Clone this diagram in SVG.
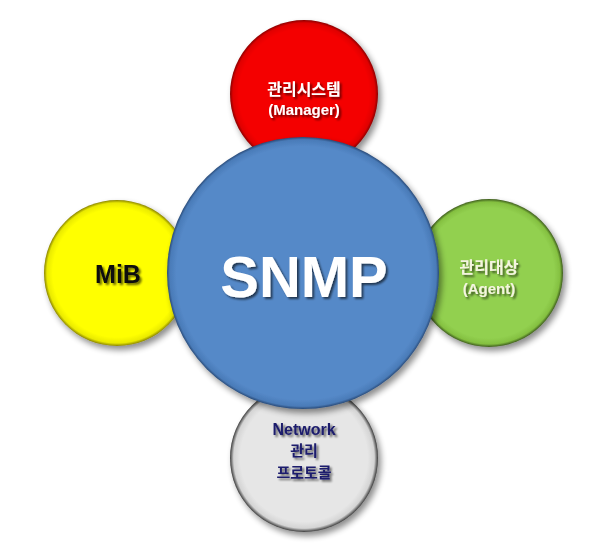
<svg xmlns="http://www.w3.org/2000/svg" width="590" height="543" viewBox="0 0 590 543">
<style>
.lbl{font-family:"Liberation Sans","Noto Sans CJK KR",sans-serif;font-weight:bold;text-anchor:middle}
.kr{font-family:"Noto Sans CJK KR","Liberation Sans",sans-serif;font-weight:bold;text-anchor:middle}
</style>
<defs>
<filter id="sh" x="-20%" y="-20%" width="150%" height="150%">
<feGaussianBlur in="SourceAlpha" stdDeviation="3"/>
<feOffset dx="3" dy="4" result="b"/>
<feComponentTransfer><feFuncA type="linear" slope="0.45"/></feComponentTransfer>
<feMerge><feMergeNode/><feMergeNode in="SourceGraphic"/></feMerge>
</filter>
<filter id="ts" x="-10%" y="-20%" width="130%" height="150%">
<feGaussianBlur in="SourceAlpha" stdDeviation="1"/>
<feOffset dx="1.5" dy="1.5"/>
<feComponentTransfer><feFuncA type="linear" slope="0.6"/></feComponentTransfer>
<feMerge><feMergeNode/><feMergeNode in="SourceGraphic"/></feMerge>
</filter>
<radialGradient id="gRed" cx="50%" cy="50%" r="50%">
<stop offset="0.88" stop-color="#f40000"/><stop offset="0.96" stop-color="#e00000"/><stop offset="1" stop-color="#8a0000"/>
</radialGradient>
<radialGradient id="gYel" cx="50%" cy="50%" r="50%">
<stop offset="0.88" stop-color="#ffff00"/><stop offset="0.96" stop-color="#eaea00"/><stop offset="1" stop-color="#8a8400"/>
</radialGradient>
<radialGradient id="gGrn" cx="50%" cy="50%" r="50%">
<stop offset="0.88" stop-color="#92d050"/><stop offset="0.96" stop-color="#84c040"/><stop offset="1" stop-color="#3c5a1c"/>
</radialGradient>
<radialGradient id="gGry" cx="50%" cy="50%" r="50%">
<stop offset="0.86" stop-color="#e6e6e6"/><stop offset="0.95" stop-color="#d4d4d4"/><stop offset="1" stop-color="#3a3a3a"/>
</radialGradient>
<radialGradient id="gBlu" cx="50%" cy="50%" r="50%">
<stop offset="0.93" stop-color="#5589c8"/><stop offset="0.98" stop-color="#4a7bb8"/><stop offset="1" stop-color="#284a78"/>
</radialGradient>
</defs>
<g id="connectors"/>
<g id="manager" filter="url(#sh)">
<circle cx="304" cy="94" r="74" fill="url(#gRed)"/>
<text class="kr" x="304" y="95" font-size="16" fill="#ffffff" filter="url(#ts)">관리시스템</text>
<text class="lbl" x="304" y="115" font-size="15" fill="#ffffff" filter="url(#ts)">(Manager)</text>
</g>
<g id="mib" filter="url(#sh)">
<circle cx="117" cy="273" r="73" fill="url(#gYel)"/>
<text class="lbl" x="118" y="283" font-size="25" fill="#111111" filter="url(#ts)">MiB</text>
</g>
<g id="agent" filter="url(#sh)">
<circle cx="489" cy="273" r="74" fill="url(#gGrn)"/>
<text class="kr" x="489" y="273" font-size="16" fill="#f4f4e0" filter="url(#ts)">관리대상</text>
<text class="lbl" x="489" y="294" font-size="15" fill="#f4f4e0" filter="url(#ts)">(Agent)</text>
</g>
<g id="protocol" filter="url(#sh)">
<circle cx="304" cy="458" r="74" fill="url(#gGry)"/>
<text class="lbl" x="304" y="435" font-size="16" fill="#1c1c6c" filter="url(#ts)">Network</text>
<text class="kr" x="304" y="456" font-size="15" fill="#1c1c6c" filter="url(#ts)">관리</text>
<text class="kr" x="304" y="478" font-size="15" fill="#1c1c6c" filter="url(#ts)">프로토콜</text>
</g>
<g id="snmp" filter="url(#sh)">
<circle cx="303" cy="273" r="136" fill="url(#gBlu)"/>
<text class="lbl" x="304" y="297" font-size="58" fill="#ffffff" filter="url(#ts)">SNMP</text>
</g>
</svg>
